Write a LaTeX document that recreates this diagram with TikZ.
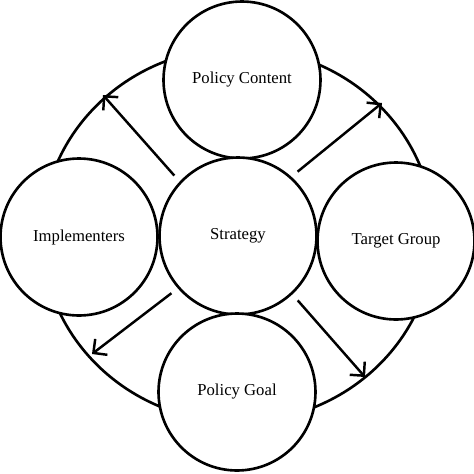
\documentclass[tikz,border=0pt]{standalone}
\usepackage{fontspec}
\setmainfont{Liberation Serif}
\usetikzlibrary{arrows.meta}

\begin{document}
\begin{tikzpicture}[x=.02cm,y=-.02cm,
  bubble/.style={circle,draw,fill=white,line width=1.5pt,minimum size=3.14cm,inner sep=0pt,font=\fontsize{9.5}{11}\selectfont},
  flow/.style={line width=1.4pt,-{Straight Barb[length=2mm,width=4mm]},shorten <=.16cm}]
\useasboundingbox (0,0) rectangle (474,474);

% outer ring
\draw[line width=1.5pt] (238,235) ellipse [x radius=3.92cm, y radius=3.74cm];

\node[bubble] (content)  at (242,80)  {Policy Content};
\node[bubble] (strategy) at (238,236) {Strategy};
\node[bubble] (impl)     at (79,237)  {Implementers};
\node[bubble] (target)   at (396,241) {Target Group};
\node[bubble] (goal)     at (237,392) {Policy Goal};

\coordinate (ul) at (103,95);
\coordinate (ur) at (382,103);
\coordinate (ll) at (92,354);
\coordinate (lr) at (365,377);

\draw[flow] (strategy.137) -- (ul);
\draw[flow] (strategy.48)  -- (ur);
\draw[flow] (strategy.221) -- (ll);
\draw[flow] (strategy.313) -- (lr);

\end{tikzpicture}
\end{document}
